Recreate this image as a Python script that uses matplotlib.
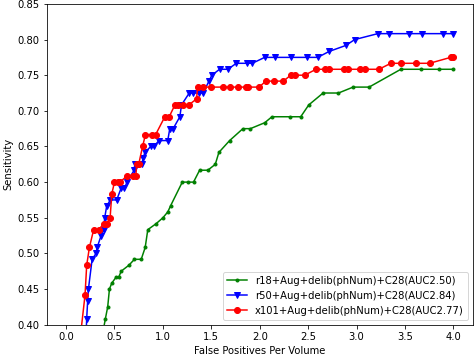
import matplotlib
matplotlib.use("Agg")
import matplotlib.pyplot as plt

# FROC points
r18_fp = [0.30, 0.406, 0.43, 0.448, 0.472, 0.517, 0.544, 0.569, 0.648, 0.706,
          0.776, 0.817, 0.844, 0.93, 1.0, 1.051, 1.079, 1.2, 1.258, 1.316,
          1.379, 1.464, 1.541, 1.578, 1.689, 1.826, 1.903, 2.051, 2.126, 2.316,
          2.423, 2.506, 2.654, 2.813, 2.964, 3.129, 3.457, 3.664, 3.847, 4.0]
r18_sens = [0.33, 0.4083, 0.425, 0.45, 0.4583, 0.4667, 0.4667, 0.475, 0.4833, 0.4917,
            0.4917, 0.5083, 0.5333, 0.5417, 0.55, 0.5583, 0.5667, 0.60, 0.60, 0.60,
            0.6167, 0.6167, 0.625, 0.6417, 0.6583, 0.675, 0.675, 0.6833, 0.6917, 0.6917,
            0.6917, 0.7083, 0.725, 0.725, 0.7333, 0.7333, 0.7583, 0.7583, 0.7583, 0.7583]

r50_fp = [0.19, 0.213, 0.223, 0.231, 0.269, 0.31, 0.321, 0.362, 0.389, 0.399,
          0.42, 0.458, 0.523, 0.569, 0.603, 0.63, 0.703, 0.71, 0.745, 0.78,
          0.797, 0.813, 0.875, 0.905, 0.96, 1.05, 1.071, 1.106, 1.175, 1.192,
          1.272, 1.313, 1.371, 1.417, 1.475, 1.506, 1.585, 1.671, 1.758, 1.868,
          1.923, 2.051, 2.157, 2.327, 2.492, 2.599, 2.716, 2.888, 2.981, 3.219,
          3.336, 3.543, 3.677, 3.888, 4.0]
r50_sens = [0.33, 0.4083, 0.4333, 0.45, 0.4917, 0.50, 0.5083, 0.525, 0.5333, 0.55,
            0.5667, 0.575, 0.575, 0.5917, 0.5917, 0.60, 0.6167, 0.625, 0.625, 0.625,
            0.6333, 0.6417, 0.65, 0.65, 0.6583, 0.6583, 0.675, 0.675, 0.6917, 0.7083,
            0.725, 0.725, 0.725, 0.725, 0.7417, 0.75, 0.7583, 0.7583, 0.7667, 0.7667,
            0.7667, 0.775, 0.775, 0.775, 0.775, 0.775, 0.7833, 0.7917, 0.80, 0.8083,
            0.8083, 0.8083, 0.8083, 0.8083, 0.8083]

x101_fp = [0.12, 0.196, 0.213, 0.241, 0.285, 0.337, 0.389, 0.42, 0.455, 0.472,
           0.50, 0.534, 0.558, 0.625, 0.69, 0.72, 0.73, 0.75, 0.79, 0.82,
           0.89, 0.925, 1.02, 1.065, 1.124, 1.158, 1.21, 1.268, 1.347, 1.36,
           1.413, 1.50, 1.619, 1.689, 1.775, 1.854, 1.878, 1.992, 2.064, 2.149,
           2.244, 2.32, 2.361, 2.464, 2.581, 2.671, 2.712, 2.865, 2.912, 3.03,
           3.085, 3.23, 3.354, 3.457, 3.615, 3.754, 3.971, 4.0]
x101_sens = [0.35, 0.4417, 0.4833, 0.5083, 0.5333, 0.5333, 0.5417, 0.5417, 0.55, 0.5833,
             0.60, 0.60, 0.60, 0.6083, 0.6083, 0.6083, 0.625, 0.625, 0.65, 0.6667,
             0.6667, 0.6667, 0.6917, 0.6917, 0.7083, 0.7083, 0.7083, 0.7083, 0.7167, 0.7333,
             0.7333, 0.7333, 0.7333, 0.7333, 0.7333, 0.7333, 0.7333, 0.7333, 0.7417, 0.7417,
             0.7417, 0.75, 0.75, 0.75, 0.7583, 0.7583, 0.7583, 0.7583, 0.7583, 0.7583,
             0.7583, 0.7583, 0.7667, 0.7667, 0.7667, 0.7667, 0.775, 0.775]

labels = ["r18+Aug+delib(phNum)+C28(AUC2.50)",
          "r50+Aug+delib(phNum)+C28(AUC2.84)",
          "x101+Aug+delib(phNum)+C28(AUC2.77)"]

# drawn at 72 dpi so fonts/markers come out at the reference's scale
fig = plt.figure(figsize=(474 / 72, 356 / 72), dpi=72)
ax = fig.add_axes([0.0985, 0.088, 0.899, 0.901])

ax.plot(r18_fp, r18_sens, "g.-", label=labels[0])
ax.plot(r50_fp, r50_sens, "bv-", label=labels[1])
ax.plot(x101_fp, x101_sens, "ro-", label=labels[2])

ax.set_xlim(-0.2, 4.2)
ax.set_ylim(0.40, 0.85)
ax.set_xlabel("False Positives Per Volume")
ax.set_ylabel("Sensitivity")
ax.legend(loc="lower right")

fig.savefig("out.png", dpi=72)
